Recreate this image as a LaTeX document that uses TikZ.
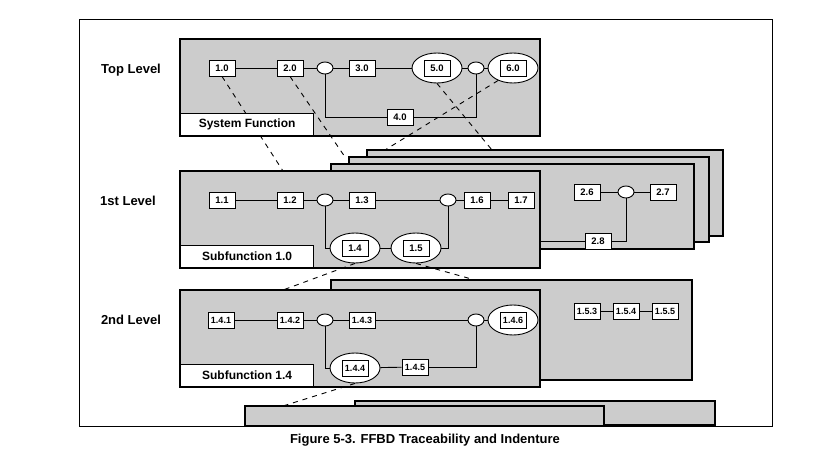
\documentclass[tikz,border=0pt]{standalone}
\usepackage{fontspec}
\setmainfont{Liberation Sans}
\usetikzlibrary{shapes.geometric,calc}
\begin{document}
\begin{tikzpicture}[x=1pt,y=-1pt,
  panel/.style={draw,line width=1.2pt,fill=gray!40},
  tag/.style={draw,line width=1.2pt,fill=white,anchor=south west,minimum width=133,minimum height=22,inner sep=0pt,font=\bfseries\fontsize{12}{14}\selectfont},
  fb/.style={draw,line width=0.9pt,fill=white,minimum width=26,minimum height=16,inner sep=1.5pt,font=\bfseries\fontsize{9.5}{11}\selectfont},
  fbs/.style={fb,font=\bfseries\fontsize{9}{11}\selectfont,inner sep=1pt},
  jn/.style={draw,ellipse,line width=0.9pt,fill=white,minimum width=16,minimum height=12,inner sep=0pt},
  ov/.style={draw,ellipse,line width=0.9pt,fill=white,minimum width=50,minimum height=30,inner sep=0pt},
  lvl/.style={font=\bfseries\fontsize{13}{15}\selectfont},
  ln/.style={line width=0.9pt},
  dl/.style={dashed,line width=0.9pt,dash pattern=on 5pt off 5pt}]
\useasboundingbox (0,0) rectangle (817,462);
\draw[line width=1pt] (79,20) rectangle (772,426);
\node[font=\bfseries\fontsize{13}{15}\selectfont] (cap) at (425,440) {Figure 5-3. FFBD Traceability and Indenture};
\node[lvl] (l0) at (131,70) {Top Level};
\node[lvl] (l1) at (128,201) {1st Level};
\node[lvl] (l2) at (131,320) {2nd Level};
% panels
\draw[panel] (180,39) rectangle (540,136);
\draw[panel] (367,150) rectangle (723,236);
\draw[panel] (349,157) rectangle (709,242);
\draw[panel] (331,164) rectangle (694,249);
\draw[panel] (180,171) rectangle (540,268);
\draw[panel] (331,280) rectangle (692,380);
\draw[panel] (180,290) rectangle (540,387);
\draw[panel] (355,401) rectangle (715,425);
\draw[panel] (245,406) rectangle (604,426);
% trace points
\coordinate (t1) at (283,171);
\coordinate (t2) at (345,157);
\coordinate (t5) at (492,150);
\coordinate (t6) at (385,150);
\coordinate (t14) at (283,290);
\coordinate (t15) at (475,280);
\coordinate (t144) at (283,406);
\coordinate (cl) at (540,241);
% top level nodes
\node[fb] (a1) at (222,68) {1.0};
\node[fb] (a2) at (290,68) {2.0};
\node[jn] (aj1) at (325,68) {};
\node[fb] (a3) at (362,68) {3.0};
\node[ov] (ae5) at (437,68) {};
\node[fb] (a5) at (437,68) {5.0};
\node[jn] (aj2) at (476,68) {};
\node[ov] (ae6) at (513,68) {};
\node[fb] (a6) at (513,68) {6.0};
\node[fb] (a4) at (400,117) {4.0};
% level 1 nodes
\node[fb] (b1) at (222,200) {1.1};
\node[fb] (b2) at (290,200) {1.2};
\node[jn] (bj1) at (325,200) {};
\node[fb] (b3) at (362,200) {1.3};
\node[jn] (bj2) at (448,200) {};
\node[fb] (b6) at (477,200) {1.6};
\node[fb] (b7) at (521,200) {1.7};
\node[ov] (be4) at (355,248) {};
\node[fb] (b4) at (355,248) {1.4};
\node[ov] (be5) at (416,248) {};
\node[fb] (b5) at (416,248) {1.5};
\node[fb] (c6) at (587,192) {2.6};
\node[jn] (cj) at (626,192) {};
\node[fb] (c7) at (663,192) {2.7};
\node[fb] (c8) at (598,241) {2.8};
% level 2 nodes
\node[fbs] (d1) at (221,320) {1.4.1};
\node[fbs] (d2) at (290,320) {1.4.2};
\node[jn] (dj1) at (325,320) {};
\node[fbs] (d3) at (362,320) {1.4.3};
\node[jn] (dj2) at (476,320) {};
\node[ov] (de6) at (513,320) {};
\node[fbs] (d6) at (513,320) {1.4.6};
\node[ov] (de4) at (355,368) {};
\node[fbs] (d4) at (355,368) {1.4.4};
\node[fbs] (d5) at (415,367) {1.4.5};
\node[fbs] (f3) at (587,311) {1.5.3};
\node[fbs] (f4) at (626,311) {1.5.4};
\node[fbs] (f5) at (665,311) {1.5.5};
% dashed trace lines
\draw[dl] (a1.south) -- (t1);
\draw[dl] (a2.south) -- (t2);
\draw[dl] (ae5.south) -- (t5);
\draw[dl] (ae6.220) -- (t6);
\draw[dl] (be4.south) -- (t14);
\draw[dl] (be5.south) -- (t15);
\draw[dl] (de4.south) -- (t144);
% labels
\node[tag] (s0) at (180,136) {System Function};
\node[tag] (s1) at (180,268) {Subfunction 1.0};
\node[tag] (s2) at (180,387) {Subfunction 1.4};
% connectors
\draw[ln] (a1) -- (a2) -- (aj1) -- (a3) -- (ae5) -- (aj2) -- (ae6);
\draw[ln] (aj1.south) |- (a4.west);
\draw[ln] (a4.east) -| (aj2.south);
\draw[ln] (b1) -- (b2) -- (bj1) -- (b3) -- (bj2) -- (b6) -- (b7);
\draw[ln] (bj1.south) |- (be4.west);
\draw[ln] (be4) -- (be5);
\draw[ln] (be5.east) -| (bj2.south);
\draw[ln] (c6) -- (cj) -- (c7);
\draw[ln] (cl) -- (c8.west);
\draw[ln] (c8.east) -| (cj.south);
\draw[ln] (d1) -- (d2) -- (dj1) -- (d3) -- (dj2) -- (de6);
\draw[ln] (dj1.south) |- (de4.west);
\draw[ln] (de4) -- (d5);
\draw[ln] (d5.east) -| (dj2.south);
\draw[ln] (f3) -- (f4) -- (f5);
\end{tikzpicture}
\end{document}
